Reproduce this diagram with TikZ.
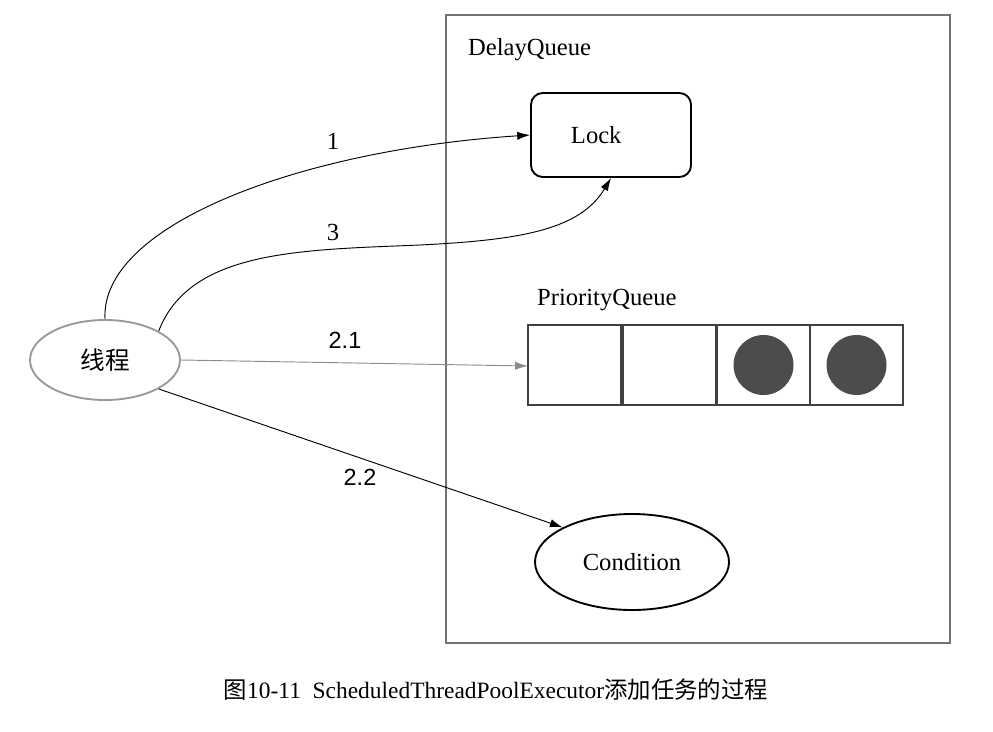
\documentclass[tikz,border=0pt]{standalone}
\usepackage{fontspec}
\setmainfont{Liberation Serif}
\newfontfamily\cjk{Noto Sans CJK SC}
\newfontfamily\sans{Liberation Sans}
\usetikzlibrary{arrows.meta,shapes.geometric}
\begin{document}
\begin{tikzpicture}[x=0.03cm,y=-0.03cm,
  lab/.style={font=\fontsize{21}{23}\selectfont},
  arr/.style={-{Latex[length=11pt,width=7pt]},line width=0.8pt},
  cell/.style={draw=black!75,line width=1.6pt}]
\useasboundingbox (0,0) rectangle (993,731);
\draw[draw=black!55,line width=2.2pt] (446,15) rectangle (950,643);
\node[lab,anchor=west] (dq) at (464,50) {DelayQueue};
\node[draw,line width=1.6pt,rounded corners=10pt,minimum width=160*0.03cm,minimum height=84*0.03cm,lab] (lock) at (611,135) {\hspace*{-1.2em}Lock};
\node[lab,anchor=west] (pq) at (533,300) {PriorityQueue};
\foreach \i/\x in {1/528,2/623,3/717,4/810}{
  \draw[cell] (\x,325) rectangle ++(93,80);
  \coordinate (c\i) at (\x+46.5,365);
}
\fill[black!70] (c3) circle (30);
\fill[black!70] (c4) circle (30);
\coordinate (q) at (528,366);
\node[draw,ellipse,line width=1.6pt,minimum width=194*0.03cm,minimum height=96*0.03cm,lab] (cond) at (632,562) {Condition};
\node[draw=black!40,ellipse,line width=1.6pt,minimum width=150*0.03cm,minimum height=80*0.03cm,font=\cjk\fontsize{21}{23}\selectfont] (t) at (105,360) {线程};
\draw[arr] (t.north) .. controls (100,225) and (300,150) .. (lock.west);
\node[lab] (l1) at (333,141) {1};
\draw[arr] (t.north east) .. controls (190,250) and (300,250) .. (420,245) .. controls (520,240) and (580,230) .. (lock.south);
\node[lab] (l3) at (333,232) {3};
\draw[arr,draw=black!45] (t.east) -- (q);
\node[font=\sans\fontsize{20}{22}\selectfont] (l21) at (345,340) {2.1};
\draw[arr] (t.south east) -- (cond.north west);
\node[font=\sans\fontsize{20}{22}\selectfont] (l22) at (360,477) {2.2};
\node[font=\fontsize{20}{22}\selectfont] (cap) at (496,690) {{\cjk 图}10-11\enspace ScheduledThreadPoolExecutor{\cjk 添加任务的过程}};
\end{tikzpicture}
\end{document}
